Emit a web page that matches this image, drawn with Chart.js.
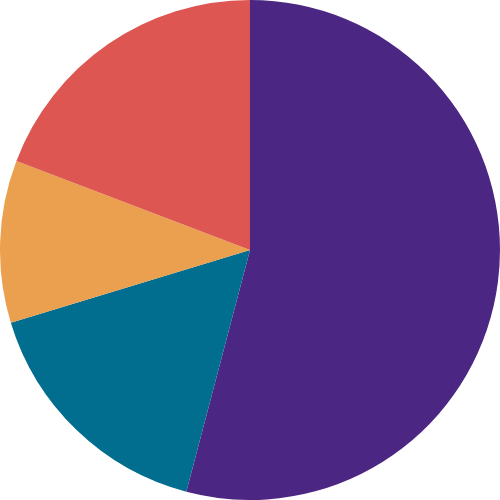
<!DOCTYPE html>
<html>
<head>
<meta charset="utf-8">
<script src="https://cdn.jsdelivr.net/npm/chart.js@4"></script>
<style>
  html, body { margin: 0; padding: 0; background: #ffffff; }
  #wrap { width: 500px; height: 500px; }
</style>
</head>
<body>
<div id="wrap"><canvas id="pieChart"></canvas></div>
<script>
// Slices, clockwise from 12 o'clock
const labels = ['A', 'B', 'C', 'D'];
const values = [54.1, 16.2, 10.5, 19.2];
const colors = ['#4c2683', '#016d8f', '#eba04f', '#dd5652'];

const ctx = document.getElementById('pieChart').getContext('2d');
new Chart(ctx, {
    type: 'pie',
    data: {
        labels: labels,
        datasets: [{
            data: values,
            backgroundColor: colors,
            hoverBackgroundColor: colors,
            borderWidth: 0
        }]
    },
    options: {
        responsive: true,
        maintainAspectRatio: false,
        animation: false,
        layout: { padding: 0 },
        plugins: {
            legend: { display: false },
            tooltip: { enabled: false }
        }
    }
});
</script>
</body>
</html>
